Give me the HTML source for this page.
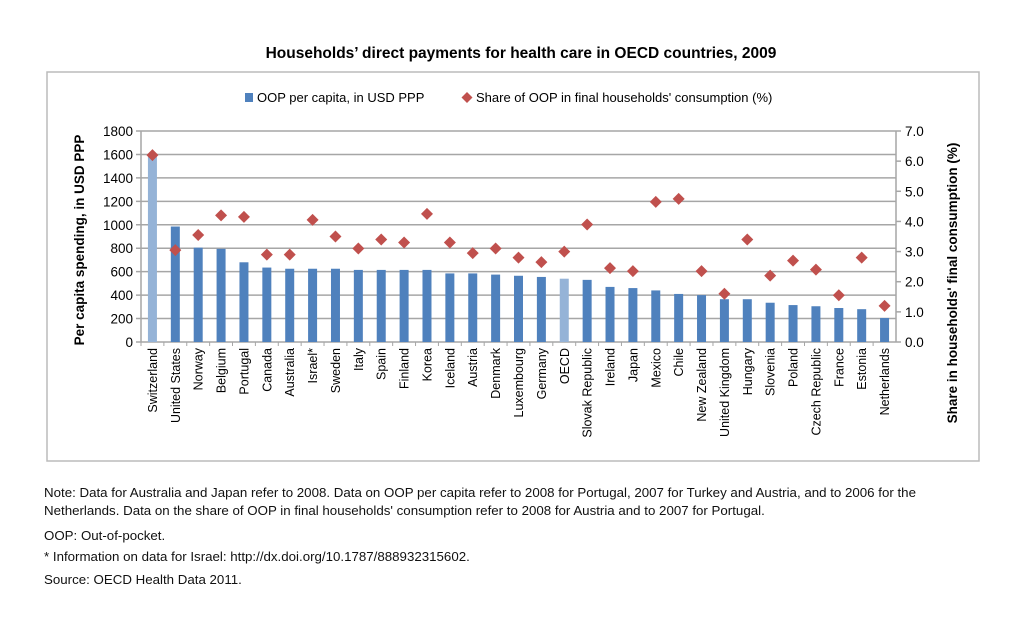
<!DOCTYPE html>
<html><head><meta charset="utf-8"><style>
body{margin:0;background:#fff;width:1024px;height:634px;overflow:hidden;font-family:"Liberation Sans",sans-serif}
.n{position:absolute;left:44px;font-size:13.3px;color:#111;line-height:18px;white-space:nowrap}
</style></head><body>
<svg id="s" width="1024" height="634" style="position:absolute;left:0;top:0" font-family="Liberation Sans, DejaVu Sans, sans-serif"></svg>
<div class="n" style="top:484px">Note: Data for Australia and Japan refer to 2008. Data on OOP per capita refer to 2008 for Portugal, 2007 for Turkey and Austria, and to 2006 for the<br>Netherlands. Data on the share of OOP in final households' consumption refer to 2008 for Austria and to 2007 for Portugal.</div>
<div class="n" style="top:527px">OOP: Out-of-pocket.</div>
<div class="n" style="top:548px">* Information on data for Israel: http://dx.doi.org/10.1787/888932315602.</div>
<div class="n" style="top:571px">Source: OECD Health Data 2011.</div>
<script>
const names=["Switzerland","United States","Norway","Belgium","Portugal","Canada","Australia","Israel*","Sweden","Italy","Spain","Finland","Korea","Iceland","Austria","Denmark","Luxembourg","Germany","OECD","Slovak Republic","Ireland","Japan","Mexico","Chile","New Zealand","United Kingdom","Hungary","Slovenia","Poland","Czech Republic","France","Estonia","Netherlands"];
const v=[1590,985,805,795,680,635,625,625,625,615,615,615,615,585,585,575,565,555,540,530,470,460,440,410,400,365,365,335,315,305,290,280,205];
const sh=[6.2,3.05,3.55,4.2,4.15,2.9,2.9,4.05,3.5,3.1,3.4,3.3,4.25,3.3,2.95,3.1,2.8,2.65,3.0,3.9,2.45,2.35,4.65,4.75,2.35,1.6,3.4,2.2,2.7,2.4,1.55,2.8,1.2];
const L=141,R=896,T=131,B=342,H=B-T,W=(R-L)/33;
let s='';
s+='<rect x="47" y="72" width="932" height="389" fill="none" stroke="#bbb" stroke-width="1.5"/>';
s+='<text x="521" y="58" text-anchor="middle" font-size="15.5" font-weight="bold">Households\u2019 direct payments for health care in OECD countries, 2009</text>';
s+='<rect x="245" y="93" width="8" height="9" fill="#4f81bd"/><text x="257" y="102" font-size="13">OOP per capita, in USD PPP</text>';
s+='<path d="M467 92l5.5 5.5-5.5 5.5-5.5-5.5z" fill="#c0504d"/><text x="476" y="102" font-size="13">Share of OOP in final households\' consumption (%)</text>';
for(let i=0;i<=9;i++){let y=B-i*H/9;s+=`<line x1="${L-5}" x2="${R}" y1="${y}" y2="${y}" stroke="#a6a6a6" stroke-width="1.5"/><text x="${L-8}" y="${y+5}" font-size="13.5" text-anchor="end">${i*200}</text>`;}
for(let i=0;i<=7;i++){let y=B-i*H/7;s+=`<line x1="${R}" x2="${R+5}" y1="${y}" y2="${y}" stroke="#a6a6a6" stroke-width="1.5"/><text x="${R+9}" y="${y+5}" font-size="13.5">${i.toFixed(1)}</text>`;}
s+=`<line x1="${L}" x2="${L}" y1="${T}" y2="${B}" stroke="#a6a6a6" stroke-width="1.5"/><line x1="${R}" x2="${R}" y1="${T}" y2="${B}" stroke="#a6a6a6" stroke-width="1.5"/>`;
for(let i=0;i<33;i++){let cx=L+W*(i+.5);let h=v[i]/1800*H;
s+=`<rect x="${cx-4.5}" y="${B-h}" width="9" height="${h}" fill="${(i==0||i==18)?'#95b3d7':'#4f81bd'}"/>`;
s+=`<line x1="${L+W*i}" x2="${L+W*i}" y1="${B}" y2="${B+4}" stroke="#a6a6a6"/>`;
let y=B-sh[i]/7*H;s+=`<path d="M${cx} ${y-6}l6 6-6 6-6-6z" fill="#c0504d"/>`;
s+=`<text transform="translate(${cx+4.5},348) rotate(-90)" text-anchor="end" font-size="12.5">${names[i]}</text>`;}
s+=`<text transform="translate(84,240) rotate(-90)" text-anchor="middle" font-size="13.5" font-weight="bold">Per capita spending, in USD PPP</text>`;
s+=`<text transform="translate(957,283) rotate(-90)" text-anchor="middle" font-size="13.5" font-weight="bold">Share in households' final consumption (%)</text>`;
document.getElementById('s').innerHTML=s;
</script>
</body></html>
